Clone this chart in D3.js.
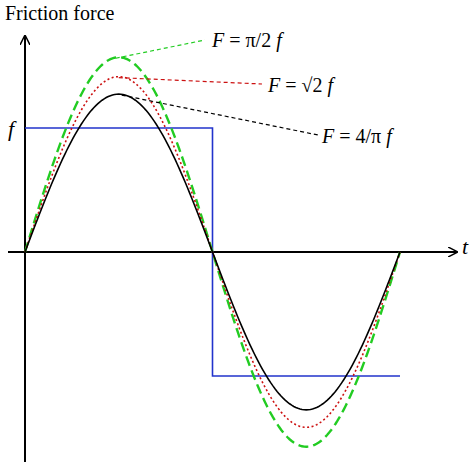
<!DOCTYPE html>
<html><head><meta charset="utf-8">
<script src="https://cdn.jsdelivr.net/npm/d3@7"></script>
<style>body{margin:0;background:#fff}text{font-family:"Liberation Serif","DejaVu Serif",serif}</style>
</head><body><div id="graph"></div>
<script>
var width = 474, height = 466;

// curve amplitudes in units of f
var curveLabels = ["π/2", "√2", "4/π"];
var curveAmps  = [Math.PI / 2, Math.SQRT2, 4 / Math.PI];
var curveColors = ["#22cc22", "#cc1111", "#000000"];
var curveDash   = ["10,5", "2,2.5", null];
var squareLevels = [1, 1, -1, -1];
var squarePhase  = [0, Math.PI, Math.PI, 2 * Math.PI];

var svg = d3.select("#graph").append("svg")
  .attr("width", width).attr("height", height);

var x = d3.scaleLinear().domain([0, 2 * Math.PI]).range([25, 400]);
var y = d3.scaleLinear().domain([-1, 1]).range([376, 128]);

// arrowhead
svg.append("defs").append("marker")
  .attr("id", "arr").attr("viewBox", "0 0 10 10").attr("refX", 9).attr("refY", 5)
  .attr("markerWidth", 10).attr("markerHeight", 10).attr("markerUnits", "userSpaceOnUse")
  .attr("orient", "auto")
  .append("path").attr("d", "M0,0 L10,5 L0,10").attr("fill", "none")
  .attr("stroke", "#000").attr("stroke-width", 1.5);

// axes
svg.append("line").attr("x1", 8).attr("x2", 457).attr("y1", y(0)).attr("y2", y(0))
  .attr("stroke", "#000").attr("stroke-width", 2).attr("marker-end", "url(#arr)");
svg.append("line").attr("x1", x(0)).attr("x2", x(0)).attr("y1", 462).attr("y2", 36)
  .attr("stroke", "#000").attr("stroke-width", 2).attr("marker-end", "url(#arr)");

// square wave
var sq = d3.line().x(d => x(d[0])).y(d => y(d[1]));
svg.append("path")
  .attr("d", sq(squarePhase.map((p, i) => [p, squareLevels[i]])))
  .attr("fill", "none").attr("stroke", "#2233cc").attr("stroke-width", 1.6);

// sine curves
var ts = d3.range(0, 2 * Math.PI + 0.001, Math.PI / 90);
var line = d3.line().x(d => x(d[0])).y(d => y(d[1]));
curveAmps.forEach(function(a, i) {
  svg.append("path")
    .attr("d", line(ts.map(t => [t, a * Math.sin(t)])))
    .attr("fill", "none").attr("stroke", curveColors[i])
    .attr("stroke-width", i === 0 ? 2.4 : 1.6)
    .attr("stroke-dasharray", curveDash[i]);
});

// leader lines + labels
var leaderEnd = [[205, 40], [262, 84], [318, 135]];
var labelPos  = [[212, 47], [268, 92], [322, 143]];
curveAmps.forEach(function(a, i) {
  var px = x(Math.PI / 2) - 3 + i * 3, py = y(a) + 1;
  svg.append("line").attr("x1", px).attr("y1", py)
    .attr("x2", leaderEnd[i][0]).attr("y2", leaderEnd[i][1])
    .attr("stroke", curveColors[i]).attr("stroke-width", 1.2).attr("stroke-dasharray", "4,3");
  var tx = svg.append("text").attr("x", labelPos[i][0]).attr("y", labelPos[i][1])
    .attr("font-size", 20);
  tx.append("tspan").attr("font-style", "italic").text("F");
  tx.append("tspan").text(" = " + curveLabels[i]);
  tx.append("tspan").attr("font-style", "italic").text(" f");
});

// axis labels
svg.append("text").attr("x", 5).attr("y", 20).attr("font-size", 20).text("Friction force");
svg.append("text").attr("x", 8).attr("y", y(1) + 8).attr("font-size", 22)
  .attr("font-style", "italic").text("f");
svg.append("text").attr("x", 462).attr("y", y(0) + 2).attr("font-size", 22)
  .attr("font-style", "italic").text("t");
</script></body></html>
